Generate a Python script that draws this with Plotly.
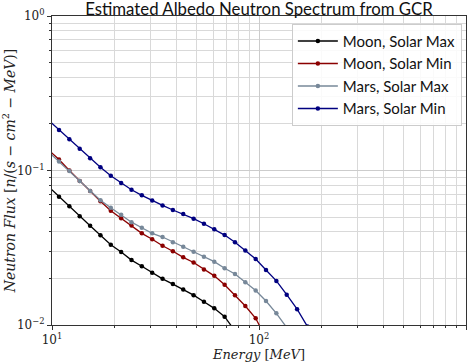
import plotly.graph_objects as go

energy_mev = [9.638, 10.81, 12.13, 13.61, 15.28, 17.14, 19.23, 21.58, 24.21, 27.16,
              30.48, 34.20, 38.37, 43.05, 48.31, 54.20, 60.81, 68.23, 76.56, 85.90,
              96.38, 108.1, 121.3, 136.1, 152.8, 171.4]

moon_solar_max = [0.0785, 0.0677, 0.0587, 0.0505, 0.0439, 0.0381, 0.0331, 0.0297, 0.0263,
                  0.0240, 0.0218, 0.0199, 0.0184, 0.0170, 0.0156, 0.01415, 0.01282,
                  0.01132, 0.00915]
moon_solar_min = [0.1357, 0.1178, 0.1000, 0.0855, 0.0737, 0.0632, 0.0549, 0.0490, 0.0441,
                  0.0392, 0.0359, 0.0326, 0.0300, 0.0274, 0.0254, 0.0229, 0.0208, 0.0182,
                  0.0156, 0.01327, 0.01105, 0.00824]
mars_solar_max = [0.1318, 0.1144, 0.0993, 0.0855, 0.0737, 0.0641, 0.0574, 0.0517, 0.0463,
                  0.0426, 0.0392, 0.0371, 0.0343, 0.0321, 0.0298, 0.0277, 0.0257, 0.0233,
                  0.0214, 0.0189, 0.0167, 0.0143, 0.0119, 0.00963]
mars_solar_min = [0.2107, 0.1829, 0.1591, 0.1384, 0.1199, 0.1049, 0.0925, 0.0830, 0.0751,
                  0.0691, 0.0639, 0.0594, 0.0555, 0.0522, 0.0488, 0.0452, 0.0416, 0.0382,
                  0.0343, 0.0304, 0.0267, 0.0227, 0.0193, 0.0157, 0.01266, 0.00978]

x_tick_vals = [10, 100, 1000]
x_tick_text = ["10<sup>1</sup>", "10<sup>2</sup>", "10<sup>3</sup>"]
y_tick_vals = [0.01, 0.1, 1]
y_tick_text = ["10<sup>−2</sup>", "10<sup>−1</sup>", "10<sup>0</sup>"]
x_minor_vals = [20, 30, 40, 50, 60, 70, 80, 90, 200, 300, 400, 500, 600, 700, 800, 900]
y_minor_vals = [0.02, 0.03, 0.04, 0.05, 0.06, 0.07, 0.08, 0.09,
                0.2, 0.3, 0.4, 0.5, 0.6, 0.7, 0.8, 0.9]

series = [
    ("Moon, Solar Max", moon_solar_max, "#000000"),
    ("Moon, Solar Min", moon_solar_min, "#8b0000"),
    ("Mars, Solar Max", mars_solar_max, "#778899"),
    ("Mars, Solar Min", mars_solar_min, "#000080"),
]

fig = go.Figure()
for name, vals, col in series:
    fig.add_trace(go.Scatter(
        x=energy_mev[:len(vals)], y=vals, name=name, mode="lines+markers",
        line=dict(color=col, width=1.3), marker=dict(color=col, size=4.5),
    ))

serif = "DejaVu Serif"
sans = "Lato"


def axis_style(tv, tt, mv):
    return dict(
        type="log", showline=True, mirror=True, linecolor="#333333", linewidth=1,
        ticks="outside", ticklen=4, tickcolor="#333333",
        tickmode="array", tickvals=tv, ticktext=tt,
        showgrid=True, gridcolor="#cccccc", gridwidth=1, automargin=False,
        tickfont=dict(family=serif, size=12, color="#222222"), zeroline=False,
        minor=dict(tickmode="array", tickvals=mv, ticks="outside", ticklen=2,
                   tickcolor="#333333", showgrid=True, gridcolor="#d9d9d9", gridwidth=1),
    )


fig.update_layout(
    width=474, height=363,
    margin=dict(l=52, r=8, t=16, b=38),
    paper_bgcolor="white", plot_bgcolor="white",
    title=dict(text="Estimated Albedo Neutron Spectrum from GCR", xref="paper", x=0.5,
               xanchor="center", yref="container", y=0.974, yanchor="middle",
               font=dict(family=sans, size=16.8, color="#111111")),
    xaxis=dict(axis_style(x_tick_vals, x_tick_text, x_minor_vals), range=[1, 3],
               title=dict(text="<i>Energy</i> [<i>MeV</i>]", standoff=2,
                          font=dict(family=serif, size=13, color="#222222"))),
    yaxis=dict(axis_style(y_tick_vals, y_tick_text, y_minor_vals), range=[-2, 0],
               title=dict(text="<i>Neutron Flux</i> [<i>n</i>/(<i>s</i> − <i>cm</i><sup>2</sup> − <i>MeV</i>)]",
                          standoff=2, font=dict(family=serif, size=14, color="#222222"))),
    legend=dict(x=0.99, y=0.975, xanchor="right", yanchor="top",
                bgcolor="rgba(255,255,255,0.85)", bordercolor="#cccccc", borderwidth=1,
                font=dict(family=sans, size=15, color="#111111"), tracegroupgap=2,
                itemwidth=40),
    showlegend=True,
)

fig.write_html("out.html", config={"displayModeBar": False},
               post_script="document.body.style.margin='0';")
